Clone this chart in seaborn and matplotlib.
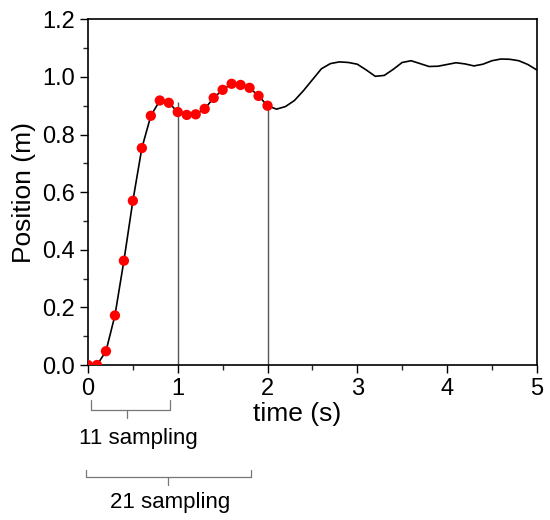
import numpy as np
import pandas as pd
import seaborn as sns
import matplotlib.pyplot as plt
from matplotlib.ticker import MultipleLocator, FormatStrFormatter

# sampled points (red), 21 samples over 0-2 s
sample_t = [0.0, 0.1, 0.2, 0.3, 0.4, 0.5, 0.6, 0.7, 0.8, 0.9, 1.0,
            1.1, 1.2, 1.3, 1.4, 1.5, 1.6, 1.7, 1.8, 1.9, 2.0]
sample_pos = [0.0, 0.0, 0.048, 0.172, 0.362, 0.57, 0.753, 0.865, 0.918, 0.91, 0.878,
              0.868, 0.87, 0.889, 0.927, 0.955, 0.976, 0.972, 0.962, 0.934, 0.90]

# rest of the trajectory (black line) after 2 s
tail_t = [2.1, 2.2, 2.3, 2.4, 2.5, 2.6, 2.7, 2.8, 2.9, 3.0,
          3.1, 3.2, 3.3, 3.4, 3.5, 3.6, 3.7, 3.8, 3.9, 4.0,
          4.1, 4.2, 4.3, 4.4, 4.5, 4.6, 4.7, 4.8, 4.9, 5.0]
tail_pos = [0.888, 0.897, 0.918, 0.952, 0.99, 1.028, 1.046, 1.052, 1.05, 1.044,
            1.024, 1.002, 1.005, 1.026, 1.05, 1.056, 1.046, 1.036, 1.037, 1.043,
            1.049, 1.045, 1.038, 1.044, 1.056, 1.062, 1.061, 1.056, 1.043, 1.024]

marker_t = [1.0, 2.0]
marker_top = [0.913, 0.90]

sns.set_style("ticks")
plt.rcParams['font.family'] = ['Liberation Sans', 'DejaVu Sans']
plt.rcParams['text.color'] = 'black'
plt.rcParams['axes.labelcolor'] = 'black'

curve = pd.DataFrame({'t': sample_t + tail_t, 'pos': sample_pos + tail_pos})
samples = pd.DataFrame({'t': sample_t, 'pos': sample_pos})

fig = plt.figure(figsize=(5.5, 5.2), dpi=100)
ax = fig.add_axes([0.16, 0.298, 0.816, 0.665])

ax.vlines(marker_t, 0, marker_top, color='#555555', lw=1.0, zorder=1)
sns.lineplot(data=curve, x='t', y='pos', color='black', lw=1.2, ax=ax, zorder=2)
sns.scatterplot(data=samples, x='t', y='pos', color='#ff0000', s=55,
                edgecolor='none', ax=ax, zorder=3)

ax.set_xlim(0, 5)
ax.set_ylim(0, 1.2)
ax.xaxis.set_major_locator(MultipleLocator(1))
ax.xaxis.set_minor_locator(MultipleLocator(0.5))
ax.yaxis.set_major_locator(MultipleLocator(0.2))
ax.yaxis.set_minor_locator(MultipleLocator(0.1))
ax.yaxis.set_major_formatter(FormatStrFormatter('%.1f'))
ax.tick_params(which='major', direction='out', length=6, width=1, labelsize=17, colors='black')
ax.tick_params(which='minor', direction='out', length=3.5, width=1)
for s in ax.spines.values():
    s.set_visible(True)
    s.set_linewidth(1.2)
    s.set_color('black')

ax.set_xlabel('time (s)', fontsize=19)
ax.set_ylabel('Position (m)', fontsize=19)
ax.xaxis.set_label_coords(0.465, -0.108)

# sampling brackets under the axis
br = dict(color='#777777', lw=0.9, clip_on=False)
ax.plot([0.03, 0.03, 0.91, 0.91], [-0.122, -0.156, -0.156, -0.122], **br)
ax.plot([0.43, 0.43], [-0.156, -0.184], **br)
ax.text(0.56, -0.255, '11 sampling', fontsize=16, ha='center', va='center')

ax.plot([-0.02, -0.02, 1.82, 1.82], [-0.365, -0.389, -0.389, -0.365], **br)
ax.plot([0.89, 0.89], [-0.389, -0.415], **br)
ax.text(0.92, -0.476, '21 sampling', fontsize=16, ha='center', va='center')

fig.savefig('out.png', dpi=100)
